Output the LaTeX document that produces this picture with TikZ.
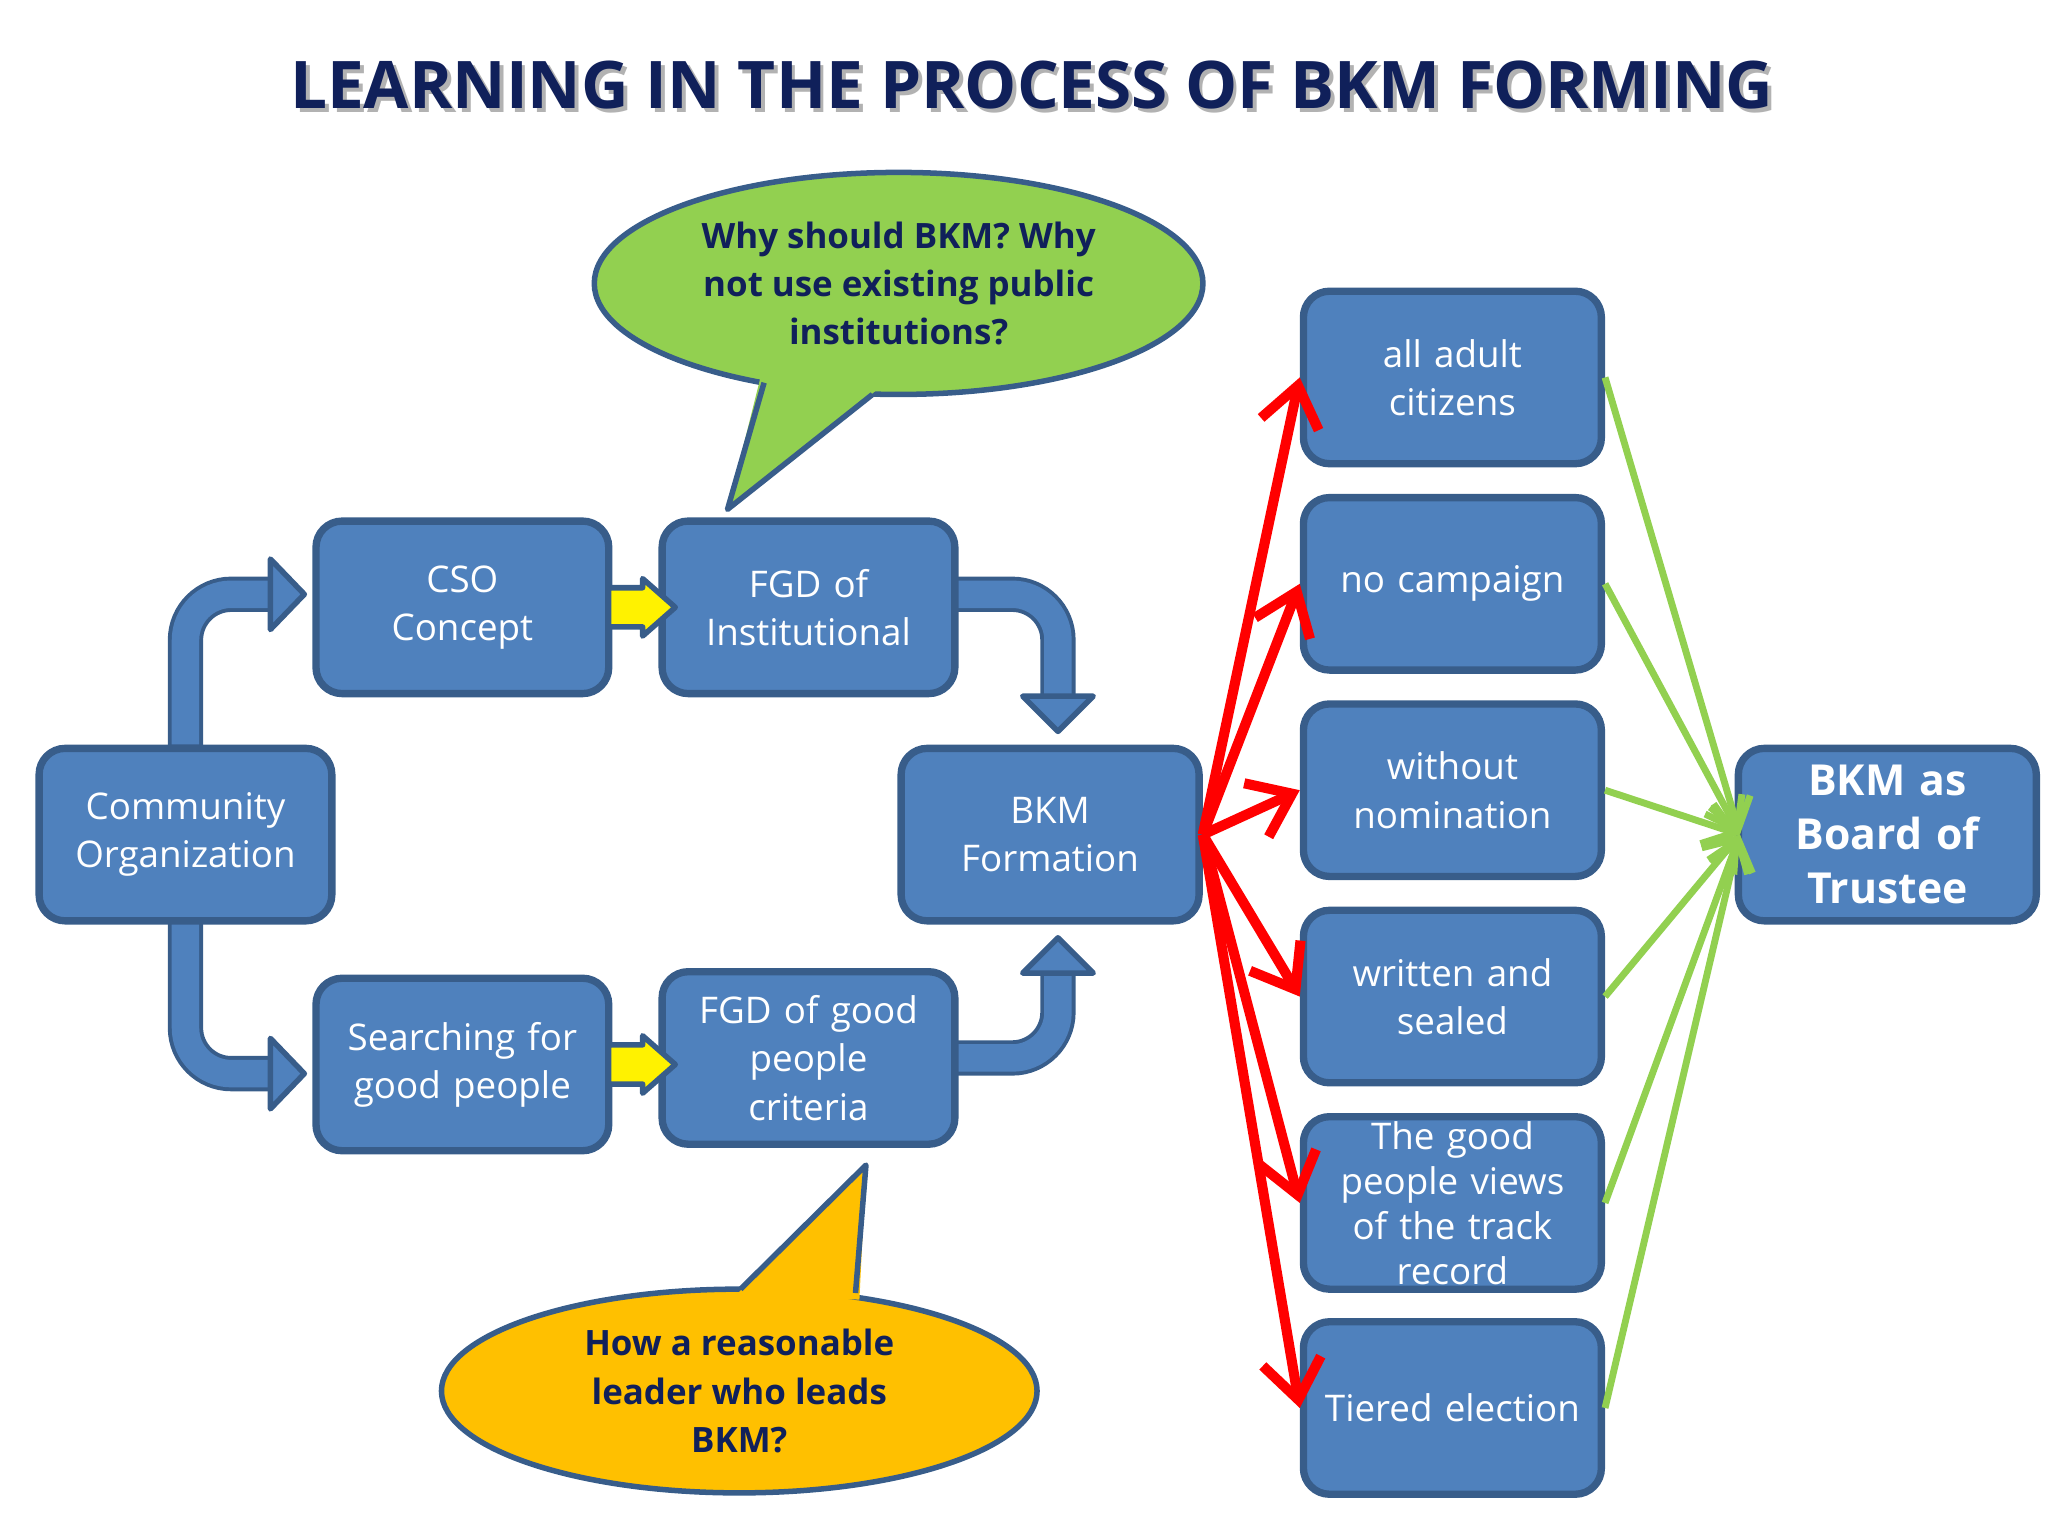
\documentclass[tikz,border=0pt]{standalone}
\usepackage{fontspec}
\setmainfont{Open Sans}
\usetikzlibrary{positioning, shapes, arrows.meta, calc}
\definecolor{boxblue}{RGB}{79,129,189}
\definecolor{boxline}{RGB}{56,93,138}
\definecolor{navy}{RGB}{16,32,90}
\definecolor{leaf}{RGB}{146,208,80}
\definecolor{amber}{RGB}{255,192,0}
\begin{document}
\begin{tikzpicture}[x=0.01cm, y=-0.01cm,
  box/.style={draw=boxline, line width=1.6pt, fill=boxblue, rounded corners=0.2cm,
    minimum width=2.24cm, minimum height=1.32cm, text width=2.18cm, inner sep=0pt,
    align=center, text=white, font=\fontsize{8}{10.5}\selectfont},
  wide/.style={text width=2.28cm},
  shaftout/.style={line width=0.27cm, draw=boxline},
  shaftin/.style={line width=0.21cm, draw=boxblue},
  head/.style={fill=boxblue, draw=boxline, line width=1.2pt, line join=round},
  red arrow/.style={red, line width=2.2pt, -{Straight Barb[length=0.3cm, width=0.45cm, line width=2.2pt]}},
  green arrow/.style={leaf, line width=1.5pt, -{Straight Barb[length=0.22cm, width=0.32cm, line width=1.5pt]}},
  speech/.style={align=center, text=navy,
    font=\bfseries\fontsize{7.6}{10.5}\selectfont}]
  \useasboundingbox (0,0) rectangle (1568,1176);
  % title
  \node[text=gray!60, font=\bfseries\fontsize{14.3}{18}\selectfont] at (793,68) {LEARNING IN THE PROCESS OF BKM FORMING};
  \node[text=navy, font=\bfseries\fontsize{14.3}{18}\selectfont] (title) at (790,65) {LEARNING IN THE PROCESS OF BKM FORMING};
  % callouts
  \fill[leaf] (688,217) ellipse [x radius=233, y radius=85];
  \draw[boxline, line width=1.2pt] (688,217) ellipse [x radius=233, y radius=85];
  \fill[leaf] (582,290) -- (557,390) -- (672,298) -- cycle;
  \draw[boxline, line width=1.2pt, line join=round] (585,293) -- (557,390) -- (668,302);
  \node[speech] (why) at (688,217) {Why should BKM? Why\\not use existing public\\institutions?};
  \fill[amber] (566,1065) ellipse [x radius=228, y radius=78];
  \draw[boxline, line width=1.2pt] (566,1065) ellipse [x radius=228, y radius=78];
  \fill[amber] (563,992) -- (663,892) -- (658,995) -- cycle;
  \draw[boxline, line width=1.2pt, line join=round] (567,987) -- (663,892) -- (655,990);
  \node[speech] (how) at (566,1065) {How a reasonable\\leader who leads\\BKM?};
  % boxes
  \node[box] (comm) at (142,639) {Community\\Organization};
  \node[box] (cso) at (354,465) {CSO\\Concept};
  \node[box] (fgdi) at (619,465) {FGD of\\Institutional};
  \node[box] (search) at (354,815) {Searching for\\good people};
  \node[box] (fgdg) at (619,810) {FGD of good\\people\\criteria};
  \node[box, wide] (form) at (804,639) {BKM\\Formation};
  \node[box, wide] (adult) at (1112,289) {all adult\\citizens};
  \node[box, wide] (camp) at (1112,447) {no campaign};
  \node[box, wide] (nomin) at (1112,605) {without\\nomination};
  \node[box, wide] (seal) at (1112,763) {written and\\sealed};
  \node[box, wide, font=\fontsize{8}{9.8}\selectfont] (views) at (1112,921) {The good\\people views\\of the track\\record};
  \node[box, wide] (tier) at (1112,1078) {Tiered election};
  \node[box, wide, font=\bfseries\fontsize{9.3}{11.8}\selectfont] (board) at (1445,639) {BKM as\\Board of\\Trustee};
  % bent block arrows
  \draw[shaftout] (142,574) -- (142,490) arc (180:270:35) -- (209,455);
  \draw[shaftin] (142,570) -- (142,490) arc (180:270:35) -- (211,455);
  \draw[head] (207,428) -- (233,455) -- (207,482) -- cycle;
  \draw[shaftout] (142,704) -- (142,787) arc (180:90:35) -- (209,822);
  \draw[shaftin] (142,708) -- (142,787) arc (180:90:35) -- (211,822);
  \draw[head] (207,795) -- (233,822) -- (207,849) -- cycle;
  \draw[shaftout] (730,455) -- (775,455) arc (270:360:35) -- (810,535);
  \draw[shaftin] (734,455) -- (775,455) arc (270:360:35) -- (810,537);
  \draw[head] (783,533) -- (810,560) -- (837,533) -- cycle;
  \draw[shaftout] (730,810) -- (775,810) arc (90:0:35) -- (810,743);
  \draw[shaftin] (734,810) -- (775,810) arc (90:0:35) -- (810,741);
  \draw[head] (783,745) -- (810,718) -- (837,745) -- cycle;
  % yellow arrows
  \foreach \y in {465,815} {
    \draw[fill=yellow, draw=boxline, line width=1.2pt, line join=round]
      (466,\y-15) -- (492,\y-15) -- (492,\y-22) -- (517,\y) -- (492,\y+22) -- (492,\y+15) -- (466,\y+15) -- cycle;
  }
  % red arrows
  \foreach \t in {adult,camp,nomin,seal,views,tier}
    \draw[red arrow] (form.east) -- (\t.west);
  % green arrows
  \foreach \s in {adult,camp,nomin,seal,views,tier}
    \draw[green arrow] (\s.east) -- ([xshift=0.04cm]board.west);
\end{tikzpicture}
\end{document}
